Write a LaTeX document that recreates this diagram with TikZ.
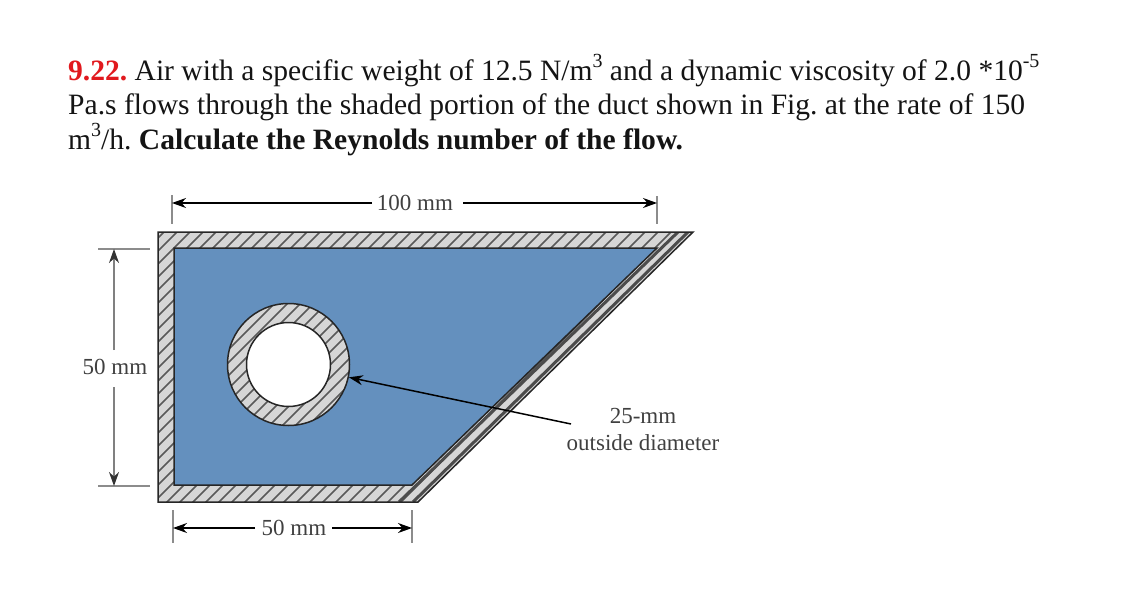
\documentclass[tikz,border=0pt]{standalone}
\usepackage{fontspec}
\setmainfont{Liberation Serif}
\usepackage{xcolor}
\usetikzlibrary{arrows.meta}
\usetikzlibrary{positioning}
\definecolor{duct-blue}{RGB}{100, 144, 190}
\definecolor{wall-gray}{RGB}{214, 214, 214}
\definecolor{title-red}{RGB}{225, 25, 30}
\tikzset{
    textline/.style={anchor=base west, inner sep=0pt, font=\fontsize{29.55}{33}\selectfont\frenchspacing, text=black!92},
    dimlabel/.style={inner sep=0pt, font=\fontsize{23}{26}\selectfont, text=black!75},
    dimline/.style={line width=1.5pt, -{Stealth[length=14pt, width=10pt]}},
    tickline/.style={line width=2pt, black!45},
    hatchline/.style={line width=1.7pt, black!65},
    slantline/.style={line width=3pt, black!70},
    wallline/.style={line width=1.5pt, draw=black!85}
}
\newcommand{\hatchlines}{\foreach \c in {396,409,...,903} {\draw[hatchline] (\c-600,600) -- (\c,0);}}
\newcommand{\supr}[1]{\raisebox{0.42em}{\fontsize{20}{22}\selectfont #1}}
\begin{document}
\begin{tikzpicture}[x=1pt, y=-1pt]
    \useasboundingbox (0, 0) rectangle (1125, 589);
    % problem text
    \node[textline] (lineone) at (68, 80) {\textcolor{title-red}{\textbf{9.22.}} Air with a specific weight of 12.5 N/m\supr{3} and a dynamic viscosity of 2.0 *10\supr{-5}};
    \node[textline] (linetwo) at (68, 114) {Pa.s flows through the shaded portion of the duct shown in Fig. at the rate of 150};
    \node[textline] (linethree) at (68, 149) {m\supr{3}/h. \textbf{Calculate the Reynolds number of the flow.}};
    % duct wall
    \fill[wall-gray] (158, 232) -- (693, 232) -- (418, 502) -- (158, 502) -- cycle;
    \begin{scope}
        \clip (158, 232) -- (693, 232) -- (418, 502) -- (158, 502) -- cycle;
        \hatchlines
        \draw[slantline] (678, 232) -- (399, 502);
        \draw[slantline] (688, 232) -- (413, 502);
    \end{scope}
    \draw[wallline] (158, 232) -- (693, 232) -- (418, 502) -- (158, 502) -- cycle;
    \filldraw[fill=duct-blue, wallline] (174, 248) -- (657, 248) -- (412, 485) -- (174, 485) -- cycle;
    % pipe
    \fill[wall-gray] (288.5, 364.5) circle (61);
    \begin{scope}
        \clip (288.5, 364.5) circle (61);
        \hatchlines
    \end{scope}
    \node[circle, wallline, minimum size=122pt, inner sep=0pt] (pipe) at (288.5, 364.5) {};
    \node[circle, wallline, fill=white, minimum size=84pt, inner sep=0pt] (hole) at (288.5, 364.5) {};
    % 100 mm
    \node[dimlabel] (toplabel) at (415, 203) {100 mm};
    \coordinate (topleft) at (172, 203);
    \coordinate (topright) at (657, 203);
    \draw[tickline] (172, 195) -- (172, 224);
    \draw[tickline] (657, 196) -- (657, 224);
    \draw[dimline] (toplabel) ++(-43, 0) -- (topleft);
    \draw[dimline] (toplabel) ++(48, 0) -- (topright);
    % 50 mm left
    \node[dimlabel] (leftlabel) at (115, 367) {50 mm};
    \coordinate (lefttop) at (114, 249);
    \coordinate (leftbottom) at (114, 486);
    \draw[tickline] (98, 249) -- (150, 249);
    \draw[tickline] (98, 486) -- (150, 486);
    \draw[dimline, black!50, -{Stealth[length=14pt, width=10pt, black!80]}] (leftlabel) ++(-1, -17) -- (lefttop);
    \draw[dimline, black!50, -{Stealth[length=14pt, width=10pt, black!80]}] (leftlabel) ++(-1, 20) -- (leftbottom);
    % 50 mm bottom
    \node[dimlabel] (bottomlabel) at (294, 528) {50 mm};
    \coordinate (bottomleft) at (173, 528);
    \coordinate (bottomright) at (412, 528);
    \draw[tickline] (173, 510) -- (173, 543);
    \draw[tickline] (412, 510) -- (412, 543);
    \draw[dimline] (bottomlabel) ++(-39, 0) -- (bottomleft);
    \draw[dimline] (bottomlabel) ++(38, 0) -- (bottomright);
    % 25-mm leader
    \node[dimlabel] (pipelabel) at (643, 416) {25-mm};
    \node[dimlabel] (pipelabeltwo) at (643, 443) {outside diameter};
    \coordinate (leaderend) at (571, 424);
    \draw[dimline] (leaderend) -- (pipe.-12);
\end{tikzpicture}
\end{document}
